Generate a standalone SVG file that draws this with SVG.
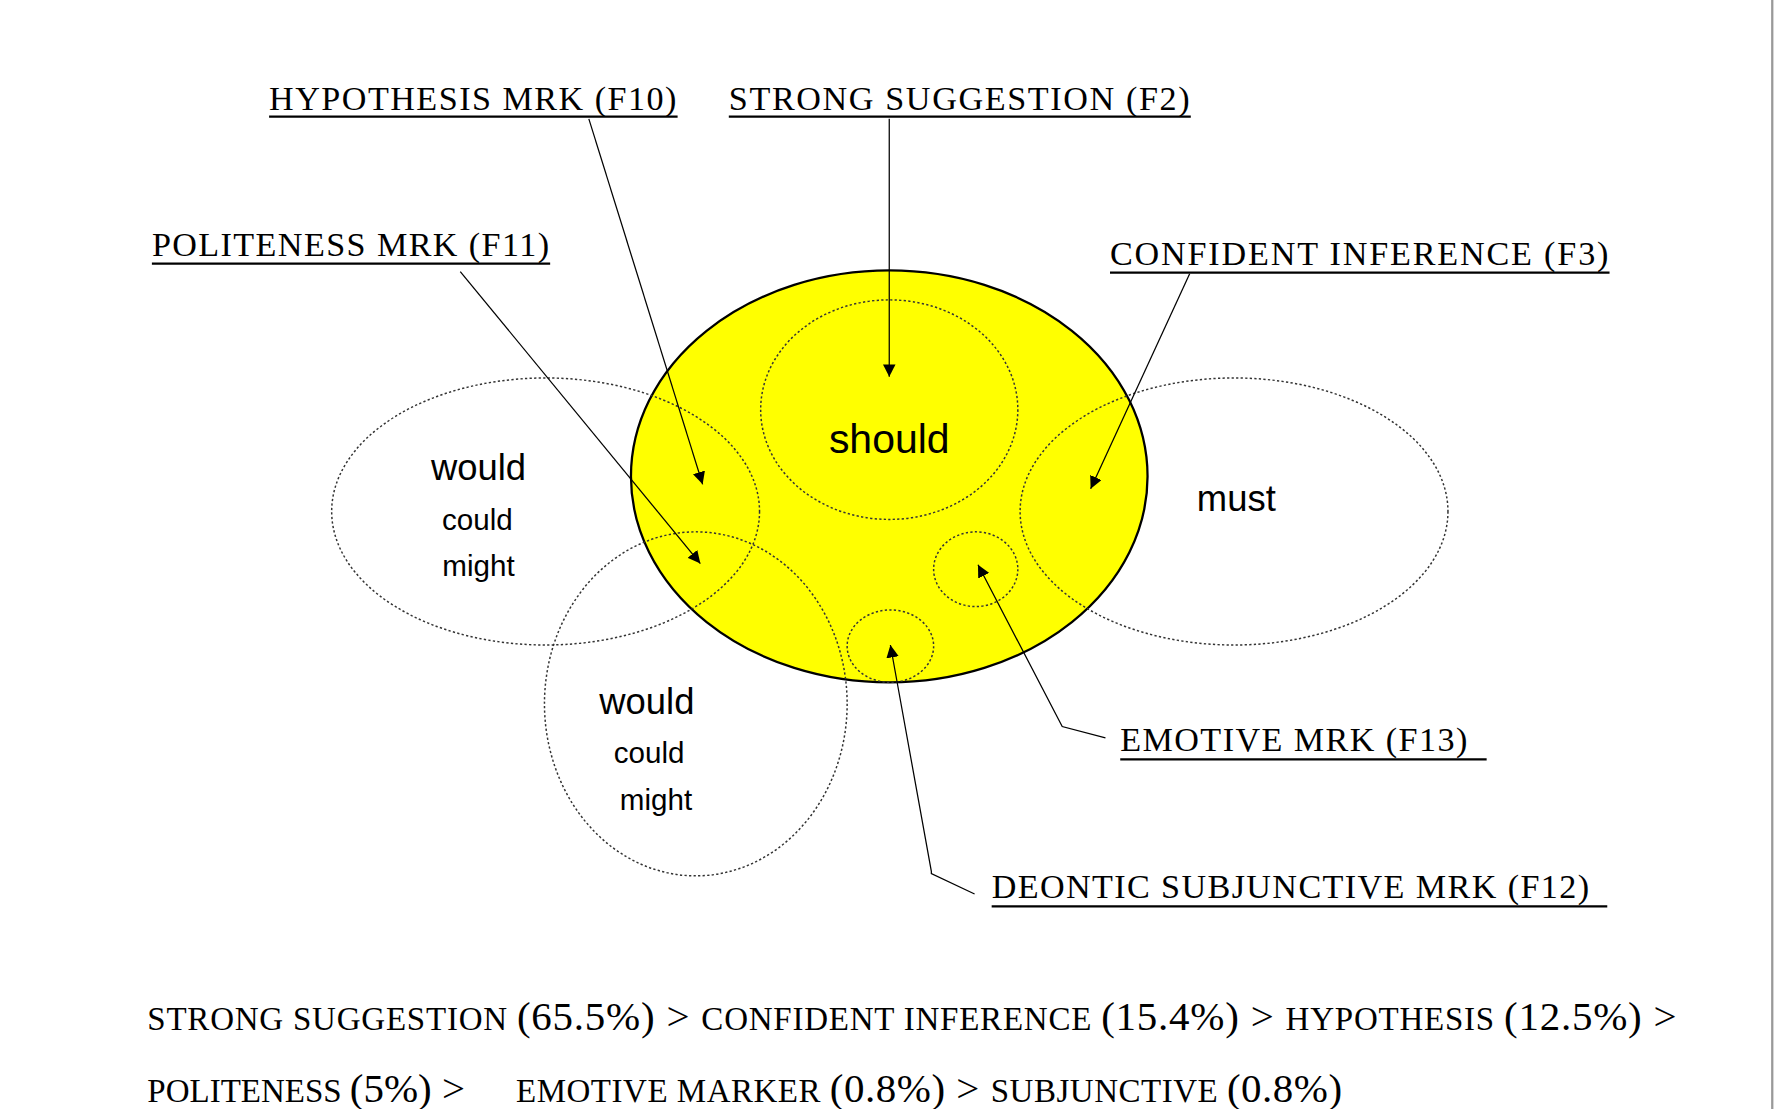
<svg xmlns="http://www.w3.org/2000/svg" width="1774" height="1109" viewBox="0 0 1774 1109">
<style>
.lbl{font-family:"Liberation Serif",serif;font-size:30px;fill:#000}
.ul{stroke:#000;stroke-width:2}
.dot{fill:none;stroke:#333;stroke-width:1.3;stroke-dasharray:2 2}
.w{font-family:"Liberation Sans",sans-serif;fill:#000;text-anchor:middle}
.c{fill:none;stroke:#000;stroke-width:1.1}
.sm{font-size:29px}
.bg{font-size:36px}
</style>
<defs><marker id="ah" viewBox="0 0 10 10" refX="10" refY="5" markerWidth="11" markerHeight="11" markerUnits="userSpaceOnUse" orient="auto"><path d="M0,0L10,5L0,10z" fill="#000"/></marker></defs>
<rect width="1774" height="1109" fill="#fff"/>
<g transform="translate(-4,0) scale(1.1379,1.1316)">
<line x1="1561" y1="0" x2="1561" y2="980" stroke="#999" stroke-width="2"/>
<g id="core"><ellipse cx="785" cy="421" rx="227" ry="182" fill="#ffff00" stroke="#000" stroke-width="2"/></g>
<g id="should"><ellipse class="dot" cx="785" cy="362" rx="113" ry="97"/><text class="w" x="785" y="400" font-size="36">should</text></g>
<g id="left"><ellipse class="dot" cx="483" cy="452" rx="188" ry="118"/><text class="w" x="424" y="424" font-size="32">would</text><text class="w" x="423" y="468" font-size="26">could</text><text class="w" x="424" y="509" font-size="26">might</text></g>
<g id="lower"><ellipse class="dot" cx="615" cy="622" rx="133" ry="152"/><text class="w" x="572" y="631" font-size="32">would</text><text class="w" x="574" y="674" font-size="26">could</text><text class="w" x="580" y="716" font-size="26">might</text></g>
<g id="right"><ellipse class="dot" cx="1088" cy="452" rx="188" ry="118"/><text class="w" x="1090" y="452" font-size="32">must</text></g>
<g id="emo"><ellipse class="dot" cx="861" cy="503" rx="37" ry="33"/></g>
<g id="sub"><ellipse class="dot" cx="786" cy="571" rx="38" ry="32"/></g>
<g id="labels">
<text class="lbl" x="240" y="97" textLength="358">HYPOTHESIS MRK (F10)</text><line class="ul" x1="240" y1="103" x2="599" y2="103"/>
<text class="lbl" x="644" y="97" textLength="405">STRONG SUGGESTION (F2)</text><line class="ul" x1="644" y1="103" x2="1050" y2="103"/>
<text class="lbl" x="137" y="226" textLength="349">POLITENESS MRK (F11)</text><line class="ul" x1="137" y1="233" x2="487" y2="233"/>
<text class="lbl" x="979" y="234" textLength="438">CONFIDENT INFERENCE (F3)</text><line class="ul" x1="979" y1="241" x2="1418" y2="241"/>
<text class="lbl" x="988" y="664" textLength="305">EMOTIVE MRK (F13)</text><line class="ul" x1="988" y1="671" x2="1310" y2="671"/>
<text class="lbl" x="875" y="794" textLength="525">DEONTIC SUBJUNCTIVE MRK (F12)</text><line class="ul" x1="875" y1="801" x2="1416" y2="801"/>
</g>
<g id="connectors">
<line class="c" x1="521" y1="105" x2="621" y2="428" marker-end="url(#ah)"/>
<line class="c" x1="785" y1="105" x2="785" y2="333" marker-end="url(#ah)"/>
<line class="c" x1="408" y1="240" x2="619" y2="498" marker-end="url(#ah)"/>
<line class="c" x1="1049" y1="242" x2="962" y2="432" marker-end="url(#ah)"/>
<polyline class="c" points="975,652 937,642 863,499" marker-end="url(#ah)"/>
<polyline class="c" points="860,790 822,772 822,770 786,570" marker-end="url(#ah)"/>
</g>
<g id="summary" font-family="Liberation Serif,serif">
<text x="133" y="910" textLength="1344"><tspan class="sm">STRONG SUGGESTION </tspan><tspan class="bg">(65.5%) </tspan><tspan class="bg">&gt; </tspan><tspan class="sm">CONFIDENT INFERENCE </tspan><tspan class="bg">(15.4%) &gt; </tspan><tspan class="sm">HYPOTHESIS </tspan><tspan class="bg">(12.5%) &gt;</tspan></text>
<text x="133" y="974"><tspan class="sm">POLITENESS </tspan><tspan class="bg">(5%) &gt;</tspan></text>
<text x="457" y="974" textLength="726"><tspan class="sm">EMOTIVE MARKER </tspan><tspan class="bg">(0.8%) &gt; </tspan><tspan class="sm">SUBJUNCTIVE </tspan><tspan class="bg">(0.8%)</tspan></text>
</g>
</g>
</svg>
